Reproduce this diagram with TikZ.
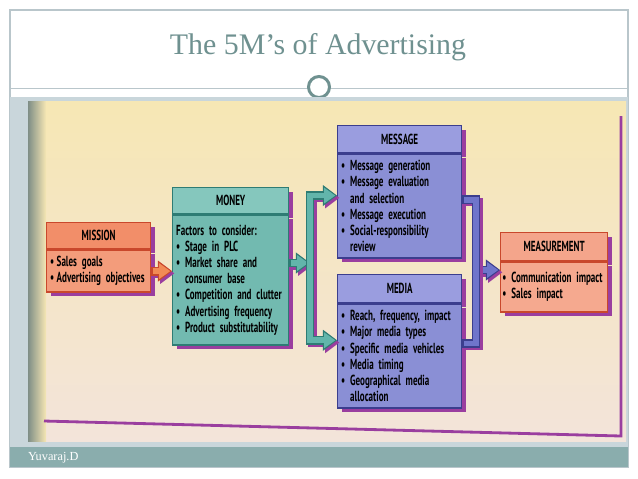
\documentclass[tikz,border=0pt]{standalone}
\usepackage{fontspec}
\setmainfont{Liberation Serif}
\newfontfamily\boxfont[FakeStretch=0.62]{PT Sans}
\usetikzlibrary{positioning,calc,arrows.meta,shadows}
\hyphenpenalty=10000

\definecolor{titlegray}{HTML}{6F9190}
\definecolor{framegray}{HTML}{B9C6CB}
\definecolor{bandgray}{HTML}{C9D6DB}
\definecolor{footerteal}{HTML}{8AADAD}
\definecolor{pageyellow}{HTML}{F6E7B4}
\definecolor{pagepink}{HTML}{F3E4DA}
\definecolor{gutter}{HTML}{7F8E86}
\definecolor{boxshade}{HTML}{9A3E9F}
\definecolor{missionhead}{HTML}{F28E69}
\definecolor{missionbody}{HTML}{F39C7B}
\definecolor{missionedge}{HTML}{C9482C}
\definecolor{moneyhead}{HTML}{85C7BD}
\definecolor{moneybody}{HTML}{72BAB0}
\definecolor{moneyedge}{HTML}{2E7C74}
\definecolor{mediahead}{HTML}{9A9DDF}
\definecolor{mediabody}{HTML}{8A8FD5}
\definecolor{mediaedge}{HTML}{3B3E8E}
\definecolor{measurehead}{HTML}{F4A58B}
\definecolor{measurebody}{HTML}{F5A98F}
\definecolor{orangelink}{HTML}{F28B55}
\definecolor{teallink}{HTML}{62B5AB}
\definecolor{bluelink}{HTML}{6F75CB}

% fat connector: shadow, edge, fill
\newcommand{\fatlink}[4]{%
  \draw[linkshadow, #1] #4;
  \draw[linkedge=#3, #1] #4;
  \draw[linkfill=#2, #1] #4;
}

\begin{document}
\begin{tikzpicture}[x=0.02cm, y=-0.02cm,
headbox/.style n args={2}{draw=#2, fill=#1, line width=0.8pt, inner sep=1pt, anchor=north west,
  font=\boxfont\bfseries\fontsize{8.3}{9.2}\selectfont,
  drop shadow={shadow xshift=2.2pt, shadow yshift=-2.2pt, fill=boxshade, opacity=1}},
bodybox/.style n args={2}{draw=#2, fill=#1, line width=0.8pt, inner xsep=2pt, inner ysep=1pt, align=left,
  font=\boxfont\bfseries\fontsize{8.3}{9.2}\selectfont,
  drop shadow={shadow xshift=2.2pt, shadow yshift=-2.2pt, fill=boxshade, opacity=1}},
linkshadow/.style={line width=5pt, draw=boxshade, transform canvas={xshift=1.3pt, yshift=-1.3pt},
  >={Triangle[length=8pt, width=12pt, line width=0pt]}},
linkedge/.style={line width=5pt, draw=#1, >={Triangle[length=8pt, width=12pt, line width=0pt]}},
linkfill/.style={line width=3.3pt, draw=#1, shorten >=1pt, shorten <=1pt,
  >={Triangle[length=6.3pt, width=9pt, line width=0pt]}},
titletext/.style={text=titlegray, font=\fontsize{17}{20}\selectfont},
ring/.style={circle, draw=titlegray, line width=1.7pt, fill=white, minimum size=0.42cm, inner sep=0pt},
footertext/.style={text=white, font=\fontsize{7}{8}\selectfont},
]
%Slide
\useasboundingbox (0,0) rectangle (638,478);
\fill[white] (0,0) rectangle (638,478);
\draw[framegray, line width=0.6pt] (10,10) rectangle (628,467);
\node[titletext] (title) at (318,47) {The 5M’s of Advertising};
\draw[framegray, line width=0.5pt] (10,88) -- (628,88);
\node[ring] (ring) at (319,87) {};
\fill[bandgray] (10,97) rectangle (628,447);
\fill[footerteal] (10,447) rectangle (628,467);
\node[footertext, anchor=west] (author) at (22,458) {Yuvaraj.D};

%Page
\shade[top color=pageyellow, middle color=pageyellow, bottom color=pagepink] (28,101) rectangle (626,441);
\shade[left color=gutter, right color=pageyellow] (28,101) rectangle (46,441);
\draw[boxshade, line width=1.6pt] (44,421) -- (621,436) -- (621,116);

%Boxes
\node[headbox={missionhead}{missionedge}, minimum width=2.08cm, minimum height=0.52cm] (mission head) at (46,222) {MISSION};
\node[bodybox={missionbody}{missionedge}, text width=1.94cm, minimum height=0.84cm, below=0pt of mission head] (mission body)
  {\textbullet\,Sales goals\\ \textbullet\,Advertising objectives};

\node[headbox={moneyhead}{moneyedge}, minimum width=2.32cm, minimum height=0.52cm] (money head) at (172,187) {MONEY};
\node[bodybox={moneybody}{moneyedge}, text width=2.18cm, minimum height=2.6cm, below=0pt of money head] (money body)
  {Factors to consider:\\
   \textbullet\ Stage in PLC\\
   \textbullet\ Market share and\\
   \hphantom{\textbullet\ }consumer base\\
   \textbullet\ Competition and clutter\\
   \textbullet\ Advertising frequency\\
   \textbullet\ Product substitutability};

\node[headbox={mediahead}{mediaedge}, minimum width=2.48cm, minimum height=0.54cm] (message head) at (337,125) {MESSAGE};
\node[bodybox={mediabody}{mediaedge}, text width=2.34cm, minimum height=2.08cm, below=0pt of message head] (message body)
  {\textbullet\ Message generation\\
   \textbullet\ Message evaluation\\
   \hphantom{\textbullet\ }and selection\\
   \textbullet\ Message execution\\
   \textbullet\ Social-responsibility\\
   \hphantom{\textbullet\ }review};

\node[headbox={mediahead}{mediaedge}, minimum width=2.48cm, minimum height=0.56cm] (media head) at (337,274) {MEDIA};
\node[bodybox={mediabody}{mediaedge}, text width=2.34cm, minimum height=2.08cm, below=0pt of media head] (media body)
  {\textbullet\ Reach, frequency, impact\\
   \textbullet\ Major media types\\
   \textbullet\ Specific media vehicles\\
   \textbullet\ Media timing\\
   \textbullet\ Geographical media\\
   \hphantom{\textbullet\ }allocation};

\node[headbox={measurehead}{missionedge}, minimum width=2.14cm, minimum height=0.56cm] (measure head) at (500,232) {MEASUREMENT};
\node[bodybox={measurebody}{missionedge}, inner xsep=1pt, text width=2.07cm, minimum height=1.0cm, below=0pt of measure head] (measure body)
  {\textbullet\ Communication impact\\ \textbullet\ Sales impact};

%Forks
\coordinate (lfork) at (310,263);
\coordinate (rfork) at (476,270);
\coordinate (msg in) at ($(message body.north west)!0.4!(message body.south west)$);
\coordinate (med in) at ($(media body.north west)!0.35!(media body.south west)$);
\coordinate (msg out) at ($(message body.north east)!0.44!(message body.south east)$);
\coordinate (med out) at ($(media body.north east)!0.38!(media body.south east)$);

%Links
\fatlink{->}{orangelink}{missionedge}{(mission body.east) -- (mission body.east -| money head.west)}
\fatlink{->}{teallink}{moneyedge}{(money body.east |- lfork) -- (lfork)}
\fatlink{<->}{teallink}{moneyedge}{(msg in) -| (lfork) |- (med in)}
\fatlink{->}{bluelink}{mediaedge}{(rfork) -- (rfork -| measure head.west)}
\fatlink{-}{bluelink}{mediaedge}{(msg out) -| (rfork) |- (med out)}
\end{tikzpicture}
\end{document}
